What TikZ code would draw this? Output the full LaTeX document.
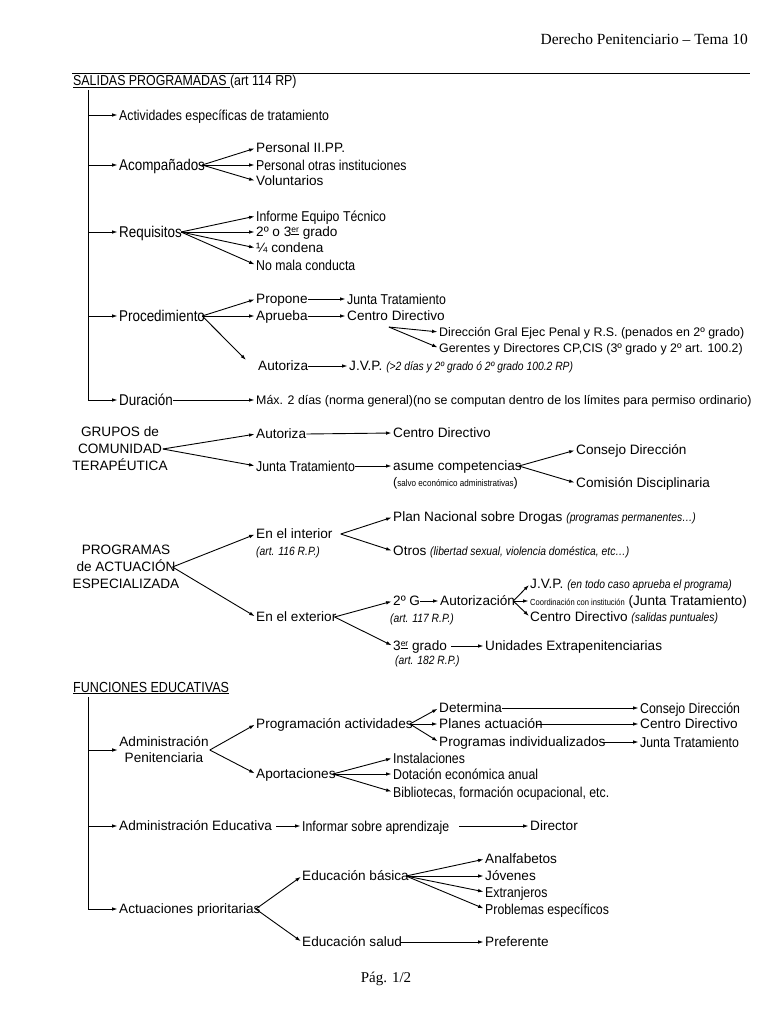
\documentclass[tikz,border=0pt]{standalone}
\usepackage{fontspec}
\setmainfont{Liberation Sans}
\newfontfamily\narrow[FakeStretch=0.86]{Liberation Sans}
\newfontfamily\serifface{Liberation Serif}
\usetikzlibrary{arrows.meta}
\newcommand{\fs}[1]{\fontsize{#1}{#1}\selectfont}
\newcommand{\ersup}{\raisebox{0.55ex}{\fs{8.5}\underline{er}}}
\newcommand{\nt}[1]{{\narrow\fs{12}\itshape #1}}
\begin{document}
\begin{tikzpicture}[x=1pt,y=-1pt,
  t/.style={anchor=west,inner sep=0pt,text height=9pt,text depth=0pt,font=\fs{12.4}},
  T/.style={t,text height=9.7pt,font=\fs{13.6}},
  n/.style={t,text height=10.2pt,font=\narrow\fs{14.3}},
  N/.style={t,text height=10.8pt,font=\narrow\fs{15.6}},
  note/.style={anchor=west,inner sep=0pt,text height=8.4pt,text depth=0pt,font=\narrow\fs{12}\itshape},
  block/.style={align=center,inner sep=0pt,font=\fontsize{13.6}{17}\selectfont},
  arr/.style={draw,line width=0.9pt,-{Latex[length=5.5pt,width=3.6pt]},shorten >=1.5pt},
  ln/.style={draw,line width=0.9pt}]
\useasboundingbox (0,0) rectangle (768,1024);
% header
\node[anchor=base east,inner sep=0pt,font=\serifface\fs{15.5}] (hdr) at (748,45) {Derecho Penitenciario – Tema 10};
\coordinate (rl) at (72,73); \coordinate (rr) at (750,73);
\draw[line width=0.9pt] (rl) -- (rr);
% ===== Section 1
\node[anchor=base west,inner sep=0pt,font=\narrow\fs{14.4}] (s1) at (73,86) {\underline{SALIDAS PROGRAMADAS }(art 114 RP)};
\coordinate (t1) at (88,90);
\node[n] (act) at (119,115) {Actividades específicas de tratamiento};
\node[N] (acomp) at (119,165) {Acompañados};
\node[T] (pipp) at (256,148) {Personal II.PP.};
\node[n] (potr) at (256,165) {Personal otras instituciones};
\node[T] (volu) at (256,181) {Voluntarios};
\node[N] (req) at (119,232) {Requisitos};
\node[n] (inf) at (256,216) {Informe Equipo Técnico};
\node[T] (grado) at (256,232) {2º o 3\ersup{} grado};
\node[T] (cuarto) at (256,248) {¼ condena};
\node[n] (nomala) at (256,265) {No mala conducta};
\node[N] (proc) at (119,316) {Procedimiento};
\node[T] (prop) at (256,299) {Propone};
\node[T] (aprue) at (256,316) {Aprueba};
\node[n] (jt1) at (347,299) {Junta Tratamiento};
\node[T] (cd1) at (347,316) {Centro Directivo};
\node[t] (dgr) at (439,332) {Dirección Gral Ejec Penal y R.S. (penados en 2º grado)};
\node[t] (ger) at (439,348) {Gerentes y Directores CP,CIS (3º grado y 2º art. 100.2)};
\node[T] (aut1) at (258,366) {Autoriza};
\node[T] (jvp1) at (349,366) {J.V.P. \nt{(>2 días y 2º grado ó 2º grado 100.2 RP)}};
\node[N] (dur) at (119,400) {Duración};
\node[t] (max) at (256,400) {Máx. 2 días (norma general)(no se computan dentro de los límites para permiso ordinario)};
\draw[ln] (t1) -- (t1 |- dur.west);
\foreach \n in {act,acomp,req,proc,dur} \draw[arr] (t1 |- \n.west) -- (\n.west);
\foreach \n in {pipp,potr,volu} \draw[arr] ([xshift=-3pt]acomp.east) -- (\n.west);
\foreach \n in {inf,grado,cuarto,nomala} \draw[arr] ([xshift=-1pt]req.east) -- (\n.west);
\foreach \n in {prop,aprue} \draw[arr] ([xshift=-3pt]proc.east) -- (\n.west);
\draw[arr] ([xshift=-3pt]proc.east) -- ([xshift=-11pt]aut1.north west);
\draw[arr] (prop.east) -- (jt1.west);
\draw[arr] (aprue.east) -- (cd1.west);
\coordinate (cdf) at ([xshift=-7pt,yshift=-6pt]cd1.south);
\draw[arr] (cdf) -- (dgr.west);
\draw[arr] (cdf) -- (ger.west);
\draw[arr] (aut1.east) -- (jvp1.west);
\draw[arr] (dur.east) -- (max.west);
% ===== Grupos
\node[block] (grp) at (120,449) {GRUPOS de\\COMUNIDAD\\TERAPÉUTICA};
\coordinate (grpf) at ([xshift=-5pt]grp.east);
\node[T] (aut2) at (256,434) {Autoriza};
\node[n] (jt2) at (256,466) {Junta Tratamiento};
\node[T] (cd2) at (393,433) {Centro Directivo};
\node[T] (asume) at (393,466) {asume competencias};
\node[anchor=west,inner sep=0pt,font=\fs{12.5}] (salvo) at (393,483) {({\narrow\fs{9.4}salvo económico administrativas})};
\node[T] (cdir) at (576,450) {Consejo Dirección};
\node[T] (cdis) at (576,483) {Comisión Disciplinaria};
\draw[arr] (grpf) -- (aut2.west);
\draw[arr] (grpf) -- (jt2.west);
\draw[arr] (aut2.east) -- (cd2.west);
\draw[arr] (jt2.east) -- (asume.west);
\draw[arr] ([xshift=-3pt]asume.east) -- (cdir.west);
\draw[arr] ([xshift=-3pt]asume.east) -- (cdis.west);
% ===== Programas
\node[block] (prg) at (126,567) {PROGRAMAS\\de ACTUACIÓN\\ESPECIALIZADA};
\coordinate (prgf) at ([xshift=-7pt]prg.east);
\node[T] (inter) at (256,534) {En el interior};
\node[note] (a116) at (256,551) {(art. 116 R.P.)};
\node[T] (exter) at (256,617) {En el exterior};
\node[T] (plan) at (393,517) {Plan Nacional sobre Drogas \nt{(programas permanentes…)}};
\node[T] (otros) at (393,551) {Otros \nt{(libertad sexual, violencia doméstica, etc…)}};
\node[T] (g2) at (393,601) {2º G};
\node[note] (a117) at (390,618) {(art. 117 R.P.)};
\node[T] (autz) at (440,601) {Autorización};
\node[T] (jvp2) at (530,584) {J.V.P. \nt{(en todo caso aprueba el programa)}};
\node[T] (coord) at (530,601) {{\narrow\fs{8.8}Coordinación con institución} (Junta Tratamiento)};
\node[T] (cd3) at (530,617) {Centro Directivo \nt{(salidas puntuales)}};
\node[T] (g3) at (393,646) {3\ersup{} grado};
\node[note] (a182) at (395,660) {(art. 182 R.P.)};
\node[T] (unid) at (485,646) {Unidades Extrapenitenciarias};
\draw[arr] (prgf) -- (inter.west);
\draw[arr] (prgf) -- (exter.west);
\draw[arr] ([xshift=8pt]inter.east) -- (plan.west);
\draw[arr] ([xshift=8pt]inter.east) -- (otros.west);
\draw[arr] ([xshift=-2pt]exter.east) -- (g2.west);
\draw[arr] ([xshift=-2pt]exter.east) -- (g3.west);
\draw[arr] (g2.east) -- (autz.west);
\foreach \n in {jvp2,coord,cd3} \draw[arr] ([xshift=-2pt]autz.east) -- (\n.west);
\draw[arr] ([xshift=4pt]g3.east) -- (unid.west);
% ===== Funciones educativas
\node[anchor=base west,inner sep=0pt,font=\narrow\fs{14.6}] (s3) at (73,692) {\underline{FUNCIONES EDUCATIVAS}};
\coordinate (t3) at (88,697);
\node[block,font=\fontsize{13.6}{16}\selectfont] (admp) at (164,750) {Administración\\Penitenciaria};
\node[T] (prog) at (256,724) {Programación actividades};
\node[T] (aport) at (256,774) {Aportaciones};
\node[T] (det) at (439,708) {Determina};
\node[T] (planes) at (439,724) {Planes actuación};
\node[T] (progi) at (439,742) {Programas individualizados};
\node[n] (cdir2) at (640,708) {Consejo Dirección};
\node[T] (cd4) at (640,724) {Centro Directivo};
\node[n] (jt3) at (640,742) {Junta Tratamiento};
\node[n] (inst) at (393,758) {Instalaciones};
\node[n] (dot) at (393,774) {Dotación económica anual};
\node[n] (bib) at (393,792) {Bibliotecas, formación ocupacional, etc.};
\node[T] (adme) at (119,826) {Administración Educativa};
\node[n] (infap) at (302,826) {Informar sobre aprendizaje};
\node[T] (direc) at (530,826) {Director};
\node[T] (actp) at (119,909) {Actuaciones prioritarias};
\node[T] (edb) at (302,876) {Educación básica};
\node[T] (eds) at (302,942) {Educación salud};
\node[T] (analf) at (485,859) {Analfabetos};
\node[T] (jov) at (485,876) {Jóvenes};
\node[n] (extr) at (485,892) {Extranjeros};
\node[n] (probl) at (485,909) {Problemas específicos};
\node[T] (pref) at (485,942) {Preferente};
\draw[ln] (t3) -- (t3 |- actp.west);
\foreach \n in {admp,adme,actp} \draw[arr] (t3 |- \n.west) -- (\n.west);
\draw[arr] ([xshift=1pt]admp.east) -- (prog.west);
\draw[arr] ([xshift=1pt]admp.east) -- (aport.west);
\foreach \n in {det,planes,progi} \draw[arr] ([xshift=-3pt]prog.east) -- (\n.west);
\draw[arr] (det.east) -- (cdir2.west);
\draw[arr] ([xshift=-6pt]planes.east) -- (cd4.west);
\draw[arr] ([xshift=-4pt]progi.east) -- (jt3.west);
\foreach \n in {inst,dot,bib} \draw[arr] ([xshift=-3pt]aport.east) -- (\n.west);
\draw[arr] ([xshift=4pt]adme.east) -- (infap.west);
\draw[arr] ([xshift=10pt]infap.east) -- (direc.west);
\draw[arr] ([xshift=-5pt]actp.east) -- (edb.west);
\draw[arr] ([xshift=-5pt]actp.east) -- (eds.west);
\foreach \n in {analf,jov,extr,probl} \draw[arr] ([xshift=-3pt]edb.east) -- (\n.west);
\draw[arr] ([xshift=-2pt]eds.east) -- (pref.west);
% footer
\node[inner sep=0pt,font=\serifface\fs{15}] (pag) at (386,979) {Pág. 1/2};
\end{tikzpicture}
\end{document}
